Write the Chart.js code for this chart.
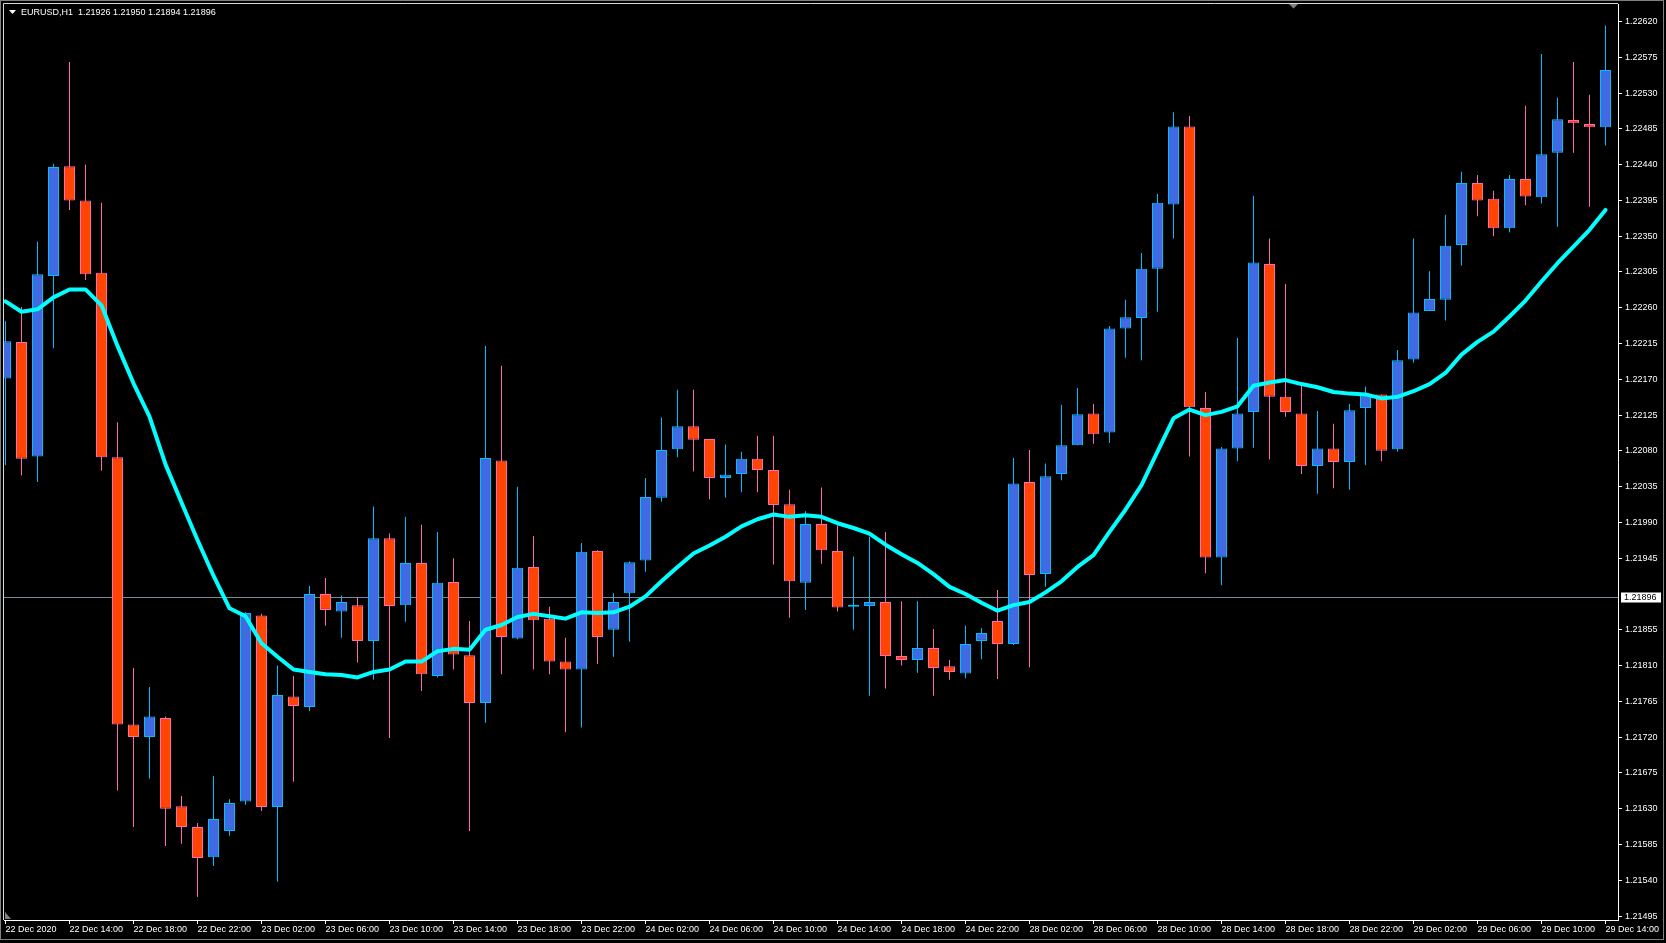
<!DOCTYPE html>
<html><head><meta charset="utf-8">
<script src="https://cdn.jsdelivr.net/npm/chart.js@4.4.1/dist/chart.umd.min.js"></script>
<style>html,body{margin:0;padding:0;background:#000;overflow:hidden}canvas{display:block}</style>
</head><body>
<canvas id="c" width="1666" height="943"></canvas>
<script>
// ---------- data ----------
const symbol = 'EURUSD,H1';
const headerValues = [1.21926, 1.21950, 1.21894, 1.21896];
const currentPrice = 1.21896;

const openP = [1.22171,1.22217,1.22073,1.22300,1.22438,1.22395,1.22304,1.22072,1.21736,1.21720,
1.21744,1.21633,1.21607,1.21569,1.21602,1.21639,1.21873,1.21632,1.21771,1.21758,
1.21900,1.21878,1.21886,1.21841,1.21970,1.21886,1.21939,1.21797,1.21915,1.21823,
1.21763,1.22068,1.21844,1.21934,1.21869,1.21815,1.21805,1.21954,1.21855,1.21901,
1.21942,1.22021,1.22082,1.22111,1.22095,1.22046,1.22051,1.22070,1.22056,1.22013,
1.21914,1.21988,1.21954,1.21884,1.21885,1.21890,1.21822,1.21817,1.21832,1.21809,
1.21800,1.21841,1.21866,1.21837,1.22041,1.21925,1.22051,1.22087,1.22127,1.22103,
1.22234,1.22247,1.22309,1.22390,1.22488,1.22134,1.21946,1.22083,1.22129,1.22315,
1.22148,1.22127,1.22061,1.22083,1.22066,1.22134,1.22151,1.22082,1.22195,1.22256,
1.22270,1.22339,1.22417,1.22397,1.22360,1.22422,1.22399,1.22455,1.22496,1.22491,
1.22487];
const highP = [1.22243,1.22261,1.22343,1.22441,1.22569,1.22440,1.22392,1.22116,1.21807,1.21783,
1.21746,1.21646,1.21612,1.21671,1.21642,1.21877,1.21875,1.21810,1.21797,1.21910,
1.21920,1.21898,1.21896,1.22010,1.21976,1.21997,1.21987,1.21978,1.21945,1.21866,
1.22212,1.22187,1.22035,1.21973,1.21884,1.21845,1.21964,1.21955,1.21901,1.21941,
1.22046,1.22122,1.22157,1.22157,1.22095,1.22088,1.22079,1.22099,1.22099,1.22031,
1.22004,1.22034,1.21986,1.21947,1.21972,1.21978,1.21891,1.21891,1.21856,1.21817,
1.21860,1.21857,1.21905,1.22071,1.22081,1.22064,1.22138,1.22159,1.22139,1.22237,
1.22270,1.22329,1.22403,1.22506,1.22501,1.22154,1.22085,1.22222,1.22401,1.22347,
1.22290,1.22163,1.22130,1.22114,1.22139,1.22161,1.22151,1.22207,1.22347,1.22306,
1.22377,1.22431,1.22427,1.22407,1.22427,1.22514,1.22579,1.22524,1.22569,1.22528,
1.22615];
const lowP = [1.22062,1.22049,1.22041,1.22209,1.22383,1.22295,1.22055,1.21653,1.21607,1.21668,
1.21583,1.21586,1.21519,1.21558,1.21596,1.21635,1.21627,1.21538,1.21664,1.21753,
1.21860,1.21845,1.21814,1.21792,1.21719,1.21865,1.21778,1.21795,1.21805,1.21602,
1.21738,1.21799,1.21843,1.21805,1.21799,1.21726,1.21732,1.21812,1.21821,1.21840,
1.21928,1.22016,1.22072,1.22054,1.22019,1.22021,1.22028,1.22028,1.21937,1.21870,
1.21880,1.21938,1.21878,1.21855,1.21772,1.21781,1.21810,1.21801,1.21772,1.21792,
1.21794,1.21818,1.21793,1.21836,1.21808,1.21909,1.22043,1.22087,1.22089,1.22090,
1.22197,1.22194,1.22255,1.22347,1.22073,1.21926,1.21911,1.22067,1.22084,1.22069,
1.22123,1.22051,1.22026,1.22033,1.22031,1.22062,1.22067,1.22079,1.22191,1.22256,
1.22244,1.22313,1.22375,1.22350,1.22355,1.22389,1.22391,1.22362,1.22455,1.22387,
1.22464];
const closeP = [1.22218,1.22070,1.22302,1.22437,1.22395,1.22302,1.22072,1.21736,1.21720,1.21746,
1.21630,1.21607,1.21568,1.21617,1.21637,1.21876,1.21632,1.21773,1.21759,1.21900,
1.21880,1.21890,1.21841,1.21970,1.21885,1.21939,1.21799,1.21914,1.21824,1.21763,
1.22071,1.21846,1.21933,1.21867,1.21815,1.21805,1.21953,1.21846,1.21890,1.21940,
1.22022,1.22081,1.22111,1.22094,1.22046,1.22050,1.22070,1.22056,1.22012,1.21916,
1.21988,1.21955,1.21883,1.21886,1.21890,1.21822,1.21817,1.21832,1.21807,1.21802,
1.21837,1.21851,1.21837,1.22039,1.21924,1.22048,1.22087,1.22126,1.22101,1.22234,
1.22248,1.22309,1.22392,1.22488,1.22135,1.21946,1.22083,1.22127,1.22317,1.22148,
1.22129,1.22061,1.22083,1.22066,1.22131,1.22150,1.22080,1.22194,1.22254,1.22271,
1.22338,1.22417,1.22395,1.22360,1.22422,1.22400,1.22453,1.22497,1.22492,1.22487,
1.22559];
const maValues = [1.22268,1.22255,1.22258,1.22273,1.22283,1.22283,1.22263,1.22212,1.22165,1.22123,
1.22063,1.22015,1.21968,1.21923,1.21882,1.21872,1.21838,1.21821,1.21805,1.21802,
1.21799,1.21798,1.21795,1.21802,1.21805,1.21815,1.21815,1.21828,1.21831,1.21830,
1.21855,1.21861,1.21871,1.21875,1.21872,1.21869,1.21877,1.21876,1.21877,1.21884,
1.21897,1.21916,1.21934,1.21951,1.21961,1.21972,1.21985,1.21994,1.22000,1.21997,
1.21999,1.21997,1.21989,1.21983,1.21976,1.21962,1.21950,1.21939,1.21925,1.21909,
1.21900,1.21889,1.21879,1.21886,1.21890,1.21902,1.21916,1.21934,1.21949,1.21978,
1.22006,1.22037,1.22079,1.22121,1.22132,1.22125,1.22129,1.22136,1.22162,1.22166,
1.22169,1.22164,1.22160,1.22154,1.22152,1.22151,1.22146,1.22148,1.22155,1.22164,
1.22178,1.22201,1.22217,1.22230,1.22249,1.22269,1.22293,1.22316,1.22337,1.22358,
1.22383];
const timeTickLabels = ['22 Dec 2020','22 Dec 14:00','22 Dec 18:00','22 Dec 22:00','23 Dec 02:00','23 Dec 06:00',
'23 Dec 10:00','23 Dec 14:00','23 Dec 18:00','23 Dec 22:00','24 Dec 02:00','24 Dec 06:00','24 Dec 10:00',
'24 Dec 14:00','24 Dec 18:00','24 Dec 22:00','28 Dec 02:00','28 Dec 06:00','28 Dec 10:00','28 Dec 14:00',
'28 Dec 18:00','28 Dec 22:00','29 Dec 02:00','29 Dec 06:00','29 Dec 10:00','29 Dec 14:00'];
const barsPerTick = 4;
const priceTicks = [1.21495,1.21540,1.21585,1.21630,1.21675,1.21720,1.21765,1.21810,1.21855,1.21945,
1.21990,1.22035,1.22080,1.22125,1.22170,1.22215,1.22260,1.22305,1.22350,1.22395,1.22440,1.22485,
1.22530,1.22575,1.22620];
const priceMin = 1.21490, priceMax = 1.22642;
const indexMin = -0.09375, indexMax = 100.78125;

// ---------- styles ----------
const FONT = "'Liberation Sans', Arial, sans-serif";
const BULL_FILL = '#4169E1', BULL_LINE = '#00BFFF';
const BEAR_FILL = '#FF4500', BEAR_LINE = '#FF69B4';

const idx = openP.map((_, i) => i);
const isBull = i => closeP[i] >= openP[i];

Chart.defaults.font.family = FONT;
Chart.defaults.font.size = 9;
Chart.defaults.color = '#ffffff';

const decorations = {
  id: 'decorations',
  beforeDraw(chart) {
    const ctx = chart.ctx;
    ctx.save();
    ctx.fillStyle = '#000';
    ctx.fillRect(0, 0, chart.width, chart.height);
    ctx.restore();
  },
  beforeDatasetsDraw(chart) {
    const {ctx, chartArea} = chart;
    const y = Math.round(chart.scales.y.getPixelForValue(currentPrice)) + 0.5;
    ctx.save();
    ctx.strokeStyle = '#778899';
    ctx.lineWidth = 1;
    ctx.beginPath();
    ctx.moveTo(chartArea.left, y);
    ctx.lineTo(chartArea.right, y);
    ctx.stroke();
    ctx.restore();
  },
  afterDraw(chart) {
    const {ctx, chartArea} = chart;
    ctx.save();
    // outer window frame
    ctx.strokeStyle = '#808080';
    ctx.lineWidth = 1;
    ctx.strokeRect(0.5, 0.5, chart.width - 3, chart.height - 4);
    // top / left frame of plot
    ctx.strokeStyle = '#d8d8d8';
    ctx.beginPath();
    ctx.moveTo(chartArea.left - 0.5, chartArea.top - 0.5);
    ctx.lineTo(chartArea.right, chartArea.top - 0.5);
    ctx.moveTo(chartArea.left - 0.5, chartArea.top - 0.5);
    ctx.lineTo(chartArea.left - 0.5, chartArea.bottom);
    ctx.stroke();
    // header
    ctx.fillStyle = '#ffffff';
    ctx.beginPath();
    ctx.moveTo(9, 10); ctx.lineTo(16, 10); ctx.lineTo(12.5, 14); ctx.closePath();
    ctx.fill();
    ctx.font = '9px ' + FONT;
    ctx.textBaseline = 'middle';
    ctx.textAlign = 'left';
    ctx.fillText(symbol + '  ' + headerValues.map(v => v.toFixed(5)).join(' '), 21, 12.5);
    // current price label
    const y = Math.round(chart.scales.y.getPixelForValue(currentPrice)) + 0.5;
    ctx.fillStyle = '#ffffff';
    ctx.fillRect(chartArea.right + 3, y - 5, 40, 10);
    ctx.fillStyle = '#000000';
    ctx.fillText(currentPrice.toFixed(5), chartArea.right + 6, y + 0.5);
    // chart shift marker
    ctx.fillStyle = '#808080';
    ctx.beginPath();
    ctx.moveTo(1289, 4); ctx.lineTo(1298, 4); ctx.lineTo(1293.5, 8.5); ctx.closePath();
    ctx.fill();
    // bottom-left marker
    ctx.beginPath();
    ctx.moveTo(5, 912); ctx.lineTo(5, 919); ctx.lineTo(11, 919); ctx.closePath();
    ctx.fill();
    ctx.restore();
  }
};

new Chart(document.getElementById('c'), {
  type: 'bar',
  data: {
    datasets: [
      {
        type: 'line',
        label: 'MA',
        data: idx.map(i => ({x: i, y: maValues[i]})),
        borderColor: '#00FFFF',
        borderWidth: 4,
        pointRadius: 0,
        tension: 0,
        borderJoinStyle: 'round',
        borderCapStyle: 'round',
        order: 0
      },
      {
        label: 'body',
        data: idx.map(i => ({x: i, y: [openP[i], closeP[i]]})),
        backgroundColor: idx.map(i => isBull(i) ? BULL_FILL : BEAR_FILL),
        borderColor: idx.map(i => isBull(i) ? BULL_LINE : BEAR_LINE),
        borderWidth: 1,
        borderSkipped: false,
        barThickness: 11,
        minBarLength: 2,
        grouped: false,
        inflateAmount: 0,
        order: 1
      },
      {
        label: 'wick',
        data: idx.map(i => ({x: i, y: [lowP[i], highP[i]]})),
        backgroundColor: idx.map(i => isBull(i) ? BULL_LINE : BEAR_LINE),
        borderWidth: 0,
        barThickness: 1,
        grouped: false,
        inflateAmount: 0,
        order: 2
      }
    ]
  },
  options: {
    responsive: false,
    animation: false,
    devicePixelRatio: 1,
    events: [],
    layout: {padding: {left: 4, top: 4, right: 0, bottom: 0}},
    plugins: {legend: {display: false}, tooltip: {enabled: false}},
    scales: {
      x: {
        type: 'linear',
        position: 'bottom',
        min: indexMin,
        max: indexMax,
        offset: false,
        afterBuildTicks: s => { s.ticks = timeTickLabels.map((_, k) => ({value: k * barsPerTick})); },
        afterFit: s => { s.height = 23; s.paddingLeft = 0; s.paddingRight = 0; },
        ticks: {
          color: '#ffffff', autoSkip: false, maxRotation: 0, minRotation: 0,
          align: 'start', padding: 0, font: {size: 9, family: FONT},
          callback: (v, i) => timeTickLabels[i]
        },
        grid: {display: true, drawOnChartArea: false, drawTicks: true, tickLength: 4, color: '#ffffff', offset: false},
        border: {display: true, color: '#ffffff', width: 1}
      },
      y: {
        type: 'linear',
        position: 'right',
        min: priceMin,
        max: priceMax,
        afterBuildTicks: s => { s.ticks = priceTicks.map(v => ({value: v})); },
        afterFit: s => { s.width = 48; s.paddingTop = 0; s.paddingBottom = 0; },
        ticks: {
          color: '#ffffff', autoSkip: false, padding: 3, font: {size: 9, family: FONT},
          callback: v => Number(v).toFixed(5)
        },
        grid: {display: true, drawOnChartArea: false, drawTicks: true, tickLength: 4, color: '#ffffff'},
        border: {display: true, color: '#ffffff', width: 1}
      }
    }
  },
  plugins: [decorations]
});
</script>
</body></html>
